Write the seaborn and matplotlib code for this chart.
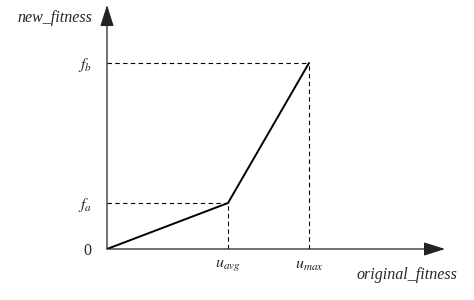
import matplotlib
matplotlib.use("Agg")
import matplotlib.pyplot as plt
import seaborn as sns
import pandas as pd

sns.set_theme(style="white")
plt.rcParams['font.family'] = ['Liberation Serif', 'DejaVu Serif']
plt.rcParams['mathtext.fontset'] = 'stix'

# data (in chart units)
x_points = [0, 121, 202]          # 0, u_avg, u_max
y_points = [0, 46, 186]           # 0, f_a, f_b
x_max = 338
y_max = 244
x_tick_labels = [r"$u_{avg}$", r"$u_{max}$"]
y_tick_labels = ["0", r"$f_a$", r"$f_b$"]
x_title = "original_fitness"
y_title = "new_fitness"

df = pd.DataFrame({"x": x_points, "y": y_points})

fig = plt.figure(figsize=(4.74, 3.00), dpi=100)
ax = fig.add_axes([107/474, 51/300, 338/474, 244/300])
ax.set_xlim(0, x_max)
ax.set_ylim(0, y_max)

sns.lineplot(data=df, x="x", y="y", ax=ax, color="black", linewidth=1.4)

# dashed guides
for xv, yv in zip(x_points[1:], y_points[1:]):
    ax.plot([0, xv], [yv, yv], color="black", lw=0.8, ls=(0, (4, 3)))
    ax.plot([xv, xv], [0, yv], color="black", lw=0.8, ls=(0, (4, 3)))

for s in ax.spines.values():
    s.set_visible(False)

# axes with arrows
arrow = dict(arrowstyle="-|>,head_length=1.1,head_width=0.35",
             color="#222222", lw=0.9, shrinkA=0, shrinkB=0)
ax.annotate("", xy=(x_max, 0), xytext=(0, 0), xycoords="data",
            arrowprops=arrow, annotation_clip=False)
ax.annotate("", xy=(0, y_max), xytext=(0, 0), xycoords="data",
            arrowprops=arrow, annotation_clip=False)

ax.set_xticks(x_points[1:])
ax.set_xticklabels(x_tick_labels, fontsize=11.5)
ax.set_yticks(y_points)
ax.set_yticklabels(y_tick_labels, fontsize=11.5)
ax.tick_params(axis="both", length=0)
ax.tick_params(axis="x", pad=6)
ax.tick_params(axis="y", pad=11)
ax.set_xlabel("")
ax.set_ylabel("")

fig.text(55/474, 1 - 18/300, y_title, ha="center", va="center",
         fontsize=11.5, style="italic")
fig.text(407/474, 1 - 275/300, x_title, ha="center", va="center",
         fontsize=11.5, style="italic")

fig.savefig("out.png", dpi=100)
